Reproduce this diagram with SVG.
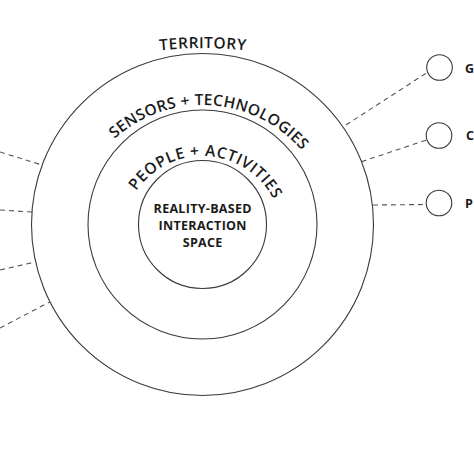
<svg xmlns="http://www.w3.org/2000/svg" width="474" height="474" viewBox="0 0 474 474">
<style>
.ring{fill:none;stroke:#3a3a3a;stroke-width:1.1}
.dash{fill:none;stroke:#555;stroke-width:1.1;stroke-dasharray:5 4}
.arc{font-family:"Open Sans","Noto Sans",sans-serif;font-weight:600;font-size:15.5px;fill:#1a1a1a;letter-spacing:0.3px}
.core{font-family:"Open Sans","Noto Sans",sans-serif;font-weight:bold;font-size:12.5px;fill:#1a1a1a;text-anchor:middle;letter-spacing:0.3px}
.lab{font-family:"Open Sans","Noto Sans",sans-serif;font-weight:bold;font-size:12.5px;fill:#1a1a1a}
</style>
<defs>
<path id="pTerr" d="M -197 448 A 400 400 0 0 1 603 448"/>
<path id="pSens" d="M 71.5 236 A 131 131 0 0 1 333.5 236"/>
<path id="pPeop" d="M 122.5 236 A 80 80 0 0 1 282.5 236"/>
</defs>
<rect width="474" height="474" fill="#fff"/>
<g id="connectors">
<line class="dash" x1="346" y1="125" x2="428" y2="72"/>
<line class="dash" x1="361.5" y1="161.7" x2="426.5" y2="140"/>
<line class="dash" x1="373" y1="205" x2="426.2" y2="204.5"/>
<line class="dash" x1="0" y1="152" x2="42" y2="165"/>
<line class="dash" x1="0" y1="210" x2="32" y2="212"/>
<line class="dash" x1="0" y1="270" x2="35" y2="262"/>
<line class="dash" x1="0" y1="328" x2="49.5" y2="302"/>
</g>
<g id="territory">
<circle class="ring" cx="202.5" cy="224.5" r="171"/>
<text class="arc" style="letter-spacing:0.5px"><textPath href="#pTerr" startOffset="50%" text-anchor="middle">TERRITORY</textPath></text>
</g>
<g id="sensors-technologies">
<circle class="ring" cx="202.5" cy="224.5" r="114.5"/>
<text class="arc"><textPath href="#pSens" startOffset="52%" text-anchor="middle">SENSORS + TECHNOLOGIES</textPath></text>
</g>
<g id="people-activities">
<circle class="ring" cx="202.5" cy="224.5" r="64"/>
<text class="arc" style="letter-spacing:0.7px"><textPath href="#pPeop" startOffset="52%" text-anchor="middle">PEOPLE + ACTIVITIES</textPath></text>
</g>
<g id="reality-based-interaction-space">
<text class="core" x="202.7" y="213">REALITY-BASED</text>
<text class="core" x="202.7" y="230">INTERACTION</text>
<text class="core" x="202.7" y="247">SPACE</text>
</g>
<g id="node-g">
<circle class="ring" cx="439.5" cy="67.5" r="12.8"/>
<text class="lab" x="465" y="73">G</text>
</g>
<g id="node-c">
<circle class="ring" cx="439" cy="135.5" r="12.8"/>
<text class="lab" x="466" y="140">C</text>
</g>
<g id="node-p">
<circle class="ring" cx="439" cy="203" r="12.8"/>
<text class="lab" x="465" y="208">P</text>
</g>
</svg>
